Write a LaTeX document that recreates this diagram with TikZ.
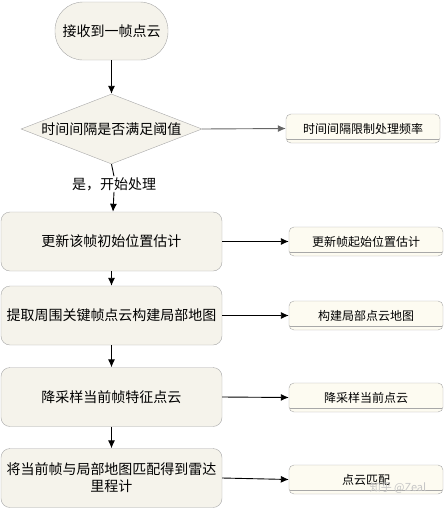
\documentclass[tikz,border=0pt]{standalone}
\usepackage{fontspec}
\newfontfamily\cjk{Noto Sans CJK SC}
\usetikzlibrary{shapes.geometric,arrows.meta}
\definecolor{boxfill}{HTML}{F5F3EB}
\definecolor{sidefill}{HTML}{FDFBF1}
\definecolor{edge}{HTML}{A8A8A8}
\tikzset{
  every node/.style={font=\cjk},
  mainbox/.style={draw=edge, fill=boxfill, rounded corners=9pt, minimum width=221pt, minimum height=59pt, inner sep=0pt, font=\cjk\fontsize{14}{17}\selectfont, align=center},
  sidebox/.style={draw=edge, fill=sidefill, rounded corners=5pt, minimum width=154pt, minimum height=29pt, inner sep=0pt, font=\cjk\fontsize{12}{14}\selectfont},
  startbox/.style={draw=edge, fill=boxfill, rounded corners=28pt, minimum width=113pt, minimum height=58pt, inner sep=0pt, font=\cjk\fontsize{14}{17}\selectfont},
  decbox/.style={draw=edge, fill=boxfill, diamond, aspect=2.6, minimum width=181pt, minimum height=70pt, inner sep=0pt, font=\cjk\fontsize{14}{17}\selectfont},
  link/.style={draw=black, line width=0.9pt, -{Latex[length=8pt,width=7pt]}},
  glink/.style={draw=gray!80!black, line width=0.9pt, -{Latex[length=8pt,width=7pt]}}
}
\begin{document}
\begin{tikzpicture}[x=1pt,y=-1pt]
\useasboundingbox (0,0) rectangle (444,509);
\node[startbox] (s) at (111.5,31) {接收到一帧点云};
\node[decbox] (d) at (111.5,129) {时间间隔是否满足阈值};
\node[font=\cjk\fontsize{14}{17}\selectfont, fill=white, inner sep=1pt] (yes) at (114,184) {是，开始处理};
\node[mainbox] (a) at (111.5,241.5) {更新该帧初始位置估计};
\node[mainbox] (b) at (111.5,315.5) {提取周围关键帧点云构建局部地图};
\node[mainbox] (c) at (111.5,397) {降采样当前帧特征点云};
\node[mainbox] (e) at (111.5,478) {将当前帧与局部地图匹配得到雷达\\里程计};
\node[sidebox] (r1) at (363,128.5) {时间间隔限制处理频率};
\node[sidebox] (r2) at (366,241.5) {更新帧起始位置估计};
\node[sidebox] (r3) at (366,315.5) {构建局部点云地图};
\node[sidebox] (r4) at (366,397.5) {降采样当前点云};
\node[sidebox] (r5) at (366,479.5) {点云匹配};
\foreach \r in {r1,r2,r3,r4,r5}{
  \draw[edge] ([xshift=1pt,yshift=4pt]\r.south west) -- ([xshift=-1pt,yshift=4pt]\r.south east);
}
\draw[link] (s) -- (d);
\draw[black, line width=0.9pt] (d.south) -- (yes.north);
\draw[link] (yes.south) -- (a);
\draw[link] (a) -- (b);
\draw[link] (b) -- (c);
\draw[link] (c) -- (e);
\draw[glink] (d.east) -- (r1.west);
\draw[link] (a.east) -- (r2.west);
\draw[link] (b.east) -- (r3.west);
\draw[link] (c.east) -- (r4.west);
\draw[link] (e.east) -- (r5.west);
\node[text=gray!45, font=\cjk\fontsize{11}{13}\selectfont] (wm) at (398,488) {知乎 @Zeal};
\end{tikzpicture}
\end{document}
